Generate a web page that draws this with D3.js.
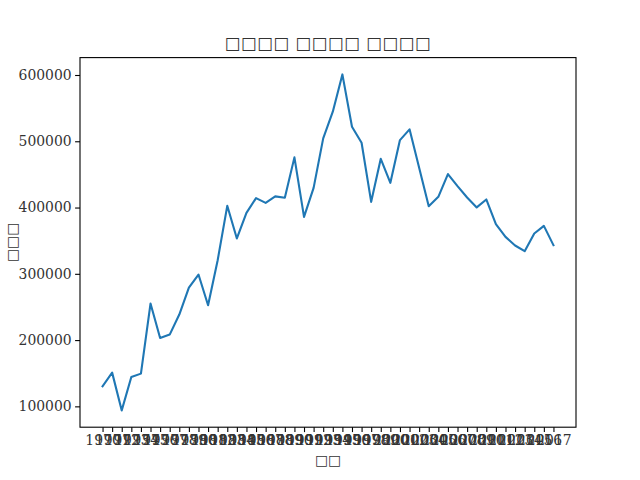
<!DOCTYPE html>
<html lang="zh">
<head>
    <meta charset="UTF-8">
    <title>line</title>
    <script src="https://cdn.jsdelivr.net/npm/d3@7"></script>
    <style>
        body { margin: 0; background: #fff; }
        text { font-family: "DejaVu Serif", serif; }
    </style>
</head>
<body>
<script type="text/javascript">
    var years = d3.range(1970, 2018);
    var values = [
        130200, 150900, 93900, 144200, 149400, 255100, 203200, 208300, 238500, 279300,
        298900, 252600, 320500, 402600, 353300, 392000, 414200, 407100, 416800, 414700,
        475700, 385900, 429700, 504400, 544600, 600900, 521900, 497700, 408600, 473600,
        437300, 501800, 518000, 460000, 402100, 416200, 450500, 432300, 415200, 400200,
        412200, 374900, 355700, 342700, 334100, 360900, 372300, 343200
    ];
    var yTicks = [100000, 200000, 300000, 400000, 500000, 600000];
    var titleText = '□□□□ □□□□ □□□□';
    var xLabel = '□□';
    var yLabel = '□□□';

    var width = 640, height = 480;
    var plotLeft = 80, plotRight = 576, plotTop = 57.6, plotBottom = 427.2;

    var svg = d3.select('body').append('svg')
            .attr('width', width)
            .attr('height', height);

    var n = years.length;
    var xPad = (n - 1) * 0.05;
    var x = d3.scaleLinear()
            .domain([-xPad, n - 1 + xPad])
            .range([plotLeft, plotRight]);
    var yMin = d3.min(values), yMax = d3.max(values);
    var yPad = (yMax - yMin) * 0.05;
    var y = d3.scaleLinear()
            .domain([yMin - yPad, yMax + yPad])
            .range([plotBottom, plotTop]);

    // x axis: one tick per year, labels overlap like the original
    var xAxis = d3.axisBottom(x)
            .tickValues(d3.range(n))
            .tickFormat(function (i) { return years[i]; })
            .tickSize(4.9)
            .tickPadding(3.5);
    var gx = svg.append('g')
            .attr('transform', 'translate(0,' + plotBottom + ')')
            .call(xAxis);
    gx.select('.domain').remove();
    gx.selectAll('line').attr('stroke', '#000').attr('stroke-width', 1.1);
    gx.selectAll('text')
            .attr('fill', '#333')
            .attr('font-size', '13.9px')
            .attr('font-family', 'DejaVu Serif');

    var yAxis = d3.axisLeft(y)
            .tickValues(yTicks)
            .tickFormat(d3.format('d'))
            .tickSize(4.9)
            .tickPadding(3.5);
    var gy = svg.append('g')
            .attr('transform', 'translate(' + plotLeft + ',0)')
            .call(yAxis);
    gy.select('.domain').remove();
    gy.selectAll('line').attr('stroke', '#000').attr('stroke-width', 1.1);
    gy.selectAll('text')
            .attr('fill', '#333')
            .attr('font-size', '13.9px')
            .attr('font-family', 'DejaVu Serif');

    var line = d3.line()
            .x(function (d, i) { return x(i); })
            .y(function (d) { return y(d); });
    svg.append('path')
            .datum(values)
            .attr('d', line)
            .attr('fill', 'none')
            .attr('stroke', '#1f77b4')
            .attr('stroke-width', 2.1)
            .attr('stroke-linejoin', 'round')
            .attr('stroke-linecap', 'square');

    svg.append('rect')
            .attr('x', plotLeft)
            .attr('y', plotTop)
            .attr('width', plotRight - plotLeft)
            .attr('height', plotBottom - plotTop)
            .attr('fill', 'none')
            .attr('stroke', '#000')
            .attr('stroke-width', 1.1);

    svg.append('text')
            .attr('x', (plotLeft + plotRight) / 2)
            .attr('y', 49)
            .attr('text-anchor', 'middle')
            .attr('font-size', '16.7px')
            .attr('textLength', 206)
            .attr('lengthAdjust', 'spacing')
            .attr('fill', '#333')
            .text(titleText);

    svg.append('text')
            .attr('x', (plotLeft + plotRight) / 2)
            .attr('y', 465)
            .attr('text-anchor', 'middle')
            .attr('font-size', '13.9px')
            .attr('fill', '#333')
            .text(xLabel);

    svg.append('text')
            .attr('transform', 'translate(17,' + (plotTop + plotBottom) / 2 + ') rotate(-90)')
            .attr('text-anchor', 'middle')
            .attr('font-size', '13.9px')
            .attr('fill', '#333')
            .text(yLabel);
</script>
</body>
</html>
